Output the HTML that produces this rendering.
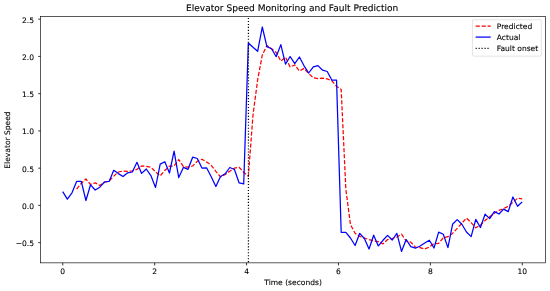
<!DOCTYPE html>
<html><head><meta charset="utf-8"><title>Elevator Speed Monitoring and Fault Prediction</title><style>
html,body{margin:0;padding:0;background:#fff;}
body{width:550px;height:291px;overflow:hidden;}
svg{display:block;}
text{font-family:'DejaVu Sans','Liberation Sans',sans-serif;fill:#000;text-rendering:geometricPrecision;stroke:#000;stroke-width:0.1px;}
.tl text{font-size:7.55px;}
</style></head><body>
<svg width="550" height="291" viewBox="0 0 550 291">
<defs></defs>
<rect x="0" y="0" width="550" height="291" fill="#fff"/>
<g>
<polyline points="76.62,189.20 81.27,183.30 85.91,179.00 90.55,184.50 95.19,182.80 99.83,185.40 104.47,182.20 109.11,180.90 113.75,176.10 118.40,172.00 123.04,171.00 127.68,171.40 132.32,171.00 136.96,169.30 141.60,165.90 146.24,166.40 150.88,167.20 155.53,171.80 160.17,175.90 164.81,170.50 169.45,166.20 174.09,166.00 178.73,159.50 183.37,166.60 188.02,167.20 192.66,166.00 197.30,161.30 201.94,159.30 206.58,162.00 211.22,165.30 215.86,171.30 220.50,176.90 225.15,174.50 229.79,171.20 234.43,168.20 239.07,167.30 243.71,172.30 248.35,176.30 252.99,115.00 257.63,80.00 262.28,55.00 266.92,45.50 271.56,48.80 276.20,52.40 280.84,61.10 285.48,57.30 290.12,67.00 294.76,65.00 299.41,71.00 304.05,68.40 308.69,73.50 313.33,77.80 317.97,78.70 322.61,78.20 327.25,78.90 331.90,80.90 336.54,86.30 341.18,89.40 345.82,189.00 350.46,224.60 355.10,233.30 359.74,236.40 364.38,238.00 369.03,239.70 373.67,240.90 378.31,241.60 382.95,243.90 387.59,239.50 392.23,238.50 396.87,237.00 401.51,234.20 406.16,241.10 410.80,242.10 415.44,247.20 420.08,247.60 424.72,249.00 429.36,247.00 434.00,243.60 438.65,243.40 443.29,237.80 447.93,236.70 452.57,233.40 457.21,228.40 461.85,223.20 466.49,218.00 471.13,222.60 475.78,227.80 480.42,225.20 485.06,220.50 489.70,216.80 494.34,213.20 498.98,210.40 503.62,208.60 508.26,206.20 512.91,202.40 517.55,198.20 522.19,198.80" fill="none" stroke="#ff0000" stroke-width="1.25" stroke-dasharray="4.19 1.81" stroke-linejoin="round"/>
<polyline points="62.70,191.70 67.34,199.20 71.98,192.80 76.62,181.40 81.27,181.40 85.91,200.50 90.55,184.80 95.19,190.00 99.83,187.20 104.47,182.00 109.11,181.40 113.75,170.30 118.40,173.60 123.04,176.50 127.68,172.80 132.32,172.00 136.96,162.30 141.60,173.40 146.24,169.00 150.88,175.60 155.53,187.50 160.17,164.10 164.81,161.70 169.45,173.00 174.09,151.20 178.73,177.60 183.37,167.40 188.02,169.30 192.66,157.20 197.30,158.50 201.94,168.10 206.58,167.80 211.22,176.70 215.86,186.50 220.50,176.50 225.15,173.80 229.79,167.50 234.43,169.50 239.07,182.80 243.71,183.80 248.35,43.00 252.99,47.30 257.63,51.30 262.28,27.00 266.92,46.60 271.56,48.80 276.20,56.70 280.84,44.60 285.48,64.20 290.12,56.50 294.76,63.70 299.41,57.00 304.05,65.80 308.69,73.00 313.33,66.80 317.97,65.60 322.61,70.20 327.25,71.50 331.90,80.20 336.54,80.10 341.18,232.30 345.82,232.30 350.46,238.00 355.10,245.50 359.74,233.30 364.38,238.50 369.03,249.00 373.67,235.20 378.31,245.90 382.95,240.30 387.59,235.40 392.23,240.00 396.87,233.30 401.51,251.40 406.16,239.50 410.80,246.70 415.44,248.20 420.08,246.00 424.72,243.00 429.36,240.20 434.00,248.00 438.65,232.10 443.29,234.30 447.93,247.60 452.57,224.30 457.21,219.60 461.85,224.30 466.49,232.00 471.13,236.60 475.78,219.40 480.42,227.50 485.06,214.20 489.70,218.60 494.34,211.60 498.98,214.00 503.62,209.10 508.26,211.60 512.91,197.00 517.55,206.30 522.19,201.90" fill="none" stroke="#0000ff" stroke-width="1.25" stroke-linejoin="round"/>
<line x1="248.43" y1="262.85" x2="248.43" y2="16.40" stroke="#000" stroke-width="1.25" stroke-dasharray="1.12 1.845" stroke-dashoffset="2.325"/>
<rect x="40.45" y="16.4" width="505.05" height="246.45" fill="none" stroke="#000" stroke-width="0.65"/>
<g stroke="#000" stroke-width="0.8">
<line x1="62.78" y1="262.85" x2="62.78" y2="265.45"/>
<line x1="154.68" y1="262.85" x2="154.68" y2="265.45"/>
<line x1="246.58" y1="262.85" x2="246.58" y2="265.45"/>
<line x1="338.47" y1="262.85" x2="338.47" y2="265.45"/>
<line x1="430.37" y1="262.85" x2="430.37" y2="265.45"/>
<line x1="522.27" y1="262.85" x2="522.27" y2="265.45"/>
<line x1="38.25" y1="242.65" x2="40.45" y2="242.65"/>
<line x1="38.25" y1="205.40" x2="40.45" y2="205.40"/>
<line x1="38.25" y1="168.16" x2="40.45" y2="168.16"/>
<line x1="38.25" y1="130.91" x2="40.45" y2="130.91"/>
<line x1="38.25" y1="93.67" x2="40.45" y2="93.67"/>
<line x1="38.25" y1="56.42" x2="40.45" y2="56.42"/>
<line x1="38.25" y1="19.18" x2="40.45" y2="19.18"/>
</g>
<g class="tl">
<text x="62.78" y="274.20" text-anchor="middle">0</text>
<text x="154.68" y="274.20" text-anchor="middle">2</text>
<text x="246.58" y="274.20" text-anchor="middle">4</text>
<text x="338.47" y="274.20" text-anchor="middle">6</text>
<text x="430.37" y="274.20" text-anchor="middle">8</text>
<text x="522.27" y="274.20" text-anchor="middle">10</text>
<text x="34.00" y="246.09" text-anchor="end">−0.5</text>
<text x="34.00" y="208.85" text-anchor="end">0.0</text>
<text x="34.00" y="171.60" text-anchor="end">0.5</text>
<text x="34.00" y="134.36" text-anchor="end">1.0</text>
<text x="34.00" y="97.12" text-anchor="end">1.5</text>
<text x="34.00" y="59.87" text-anchor="end">2.0</text>
<text x="34.00" y="22.63" text-anchor="end">2.5</text>
</g>
<text x="292.20" y="11.46" text-anchor="middle" style="font-size:9.06px">Elevator Speed Monitoring and Fault Prediction</text>
<text x="293.10" y="284.72" text-anchor="middle" style="font-size:7.55px">Time (seconds)</text>
<text transform="translate(10.07,140.00) rotate(-90)" x="0" y="0" text-anchor="middle" style="font-size:7.55px">Elevator Speed</text>
<rect x="472.45" y="19.75" width="68.85" height="36.4" rx="1.3" ry="1.3" fill="#fff" fill-opacity="0.8" stroke="#cccccc" stroke-width="0.55"/>
<line x1="475.62" y1="26.0" x2="490.72" y2="26.0" stroke="#ff0000" stroke-width="1.25" stroke-dasharray="4.19 1.81"/>
<line x1="475.62" y1="37.1" x2="490.72" y2="37.1" stroke="#0000ff" stroke-width="1.25"/>
<line x1="475.62" y1="48.4" x2="490.3" y2="48.4" stroke="#000" stroke-width="1.25" stroke-dasharray="1.12 1.845"/>
<g class="tl">
<text x="496.75" y="29.10">Predicted</text>
<text x="496.75" y="40.25">Actual</text>
<text x="496.75" y="51.39">Fault onset</text>
</g>
</g>
</svg>
</body></html>
